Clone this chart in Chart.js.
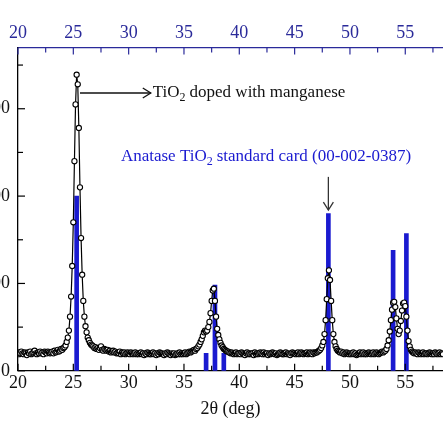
<!DOCTYPE html><html><head><script src="https://cdn.jsdelivr.net/npm/chart.js@4"></script>
<style>html,body{margin:0;padding:0;overflow:hidden;background:#fff}#w{position:absolute;left:-53px;top:0;width:501px;height:448px}</style></head><body><div id="w"><canvas id="c"></canvas></div>
<script>
// XRD scan: start angle, step, intensities
const scanStart = 18.4, scanStep = 0.1;
const scanIntensity = [
19,21,20,18,21,20,
22,20,19,21,20,18,21,22,19,20,
21,19,20,22,20,19,21,20,18,21,
20,22,19,20,21,23,20,19,21,20,
22,20,21,19,22,21,20,22,21,20,
21,22,20,23,21,22,24,22,23,25,
24,26,27,29,33,38,46,62,85,120,
170,240,305,339,328,278,210,152,110,80,
62,51,44,38,35,32,30,29,28,26,
27,25,26,24,26,28,24,23,25,24,
23,24,22,23,21,22,23,21,22,20,
21,20,22,19,21,20,21,19,20,21,
20,19,21,20,19,20,21,19,20,19,
20,21,19,20,18,20,19,21,20,19,
19,20,21,19,20,18,20,19,21,20,
20,19,18,20,19,21,20,19,18,20,
19,20,18,19,20,19,21,19,20,19,
20,21,19,20,21,22,21,22,23,24,
23,25,26,28,30,33,36,40,44,46,
45,46,50,56,66,80,92,94,80,62,
48,41,36,32,29,27,25,24,23,22,
22,21,20,21,20,19,20,21,19,20,
20,19,21,20,19,18,20,21,19,20,
19,20,20,18,21,19,20,19,20,21,
20,19,21,19,20,20,18,20,19,20,
21,20,19,20,18,19,20,21,20,19,
19,20,21,19,20,19,18,20,21,20,
20,19,20,21,19,20,21,20,19,20,
20,21,19,20,21,20,19,21,20,21,
21,22,23,24,26,29,33,42,58,82,
106,115,104,80,58,42,33,28,25,23,
22,21,22,20,21,19,20,21,20,19,
20,19,20,21,19,20,18,19,20,21,
19,20,21,19,20,19,20,21,20,19,
20,21,19,20,21,20,19,20,21,22,
21,22,23,25,29,35,45,58,70,78,
79,73,60,48,42,46,57,69,77,78,
74,62,46,34,28,24,22,21,20,21,
20,19,21,20,19,20,21,19,20,20,
19,20,21,20,19,20,19,21,20,19,
20,21,19,20,19,20,21,20,19,20,
20,19,21,20,19,20,21,20,19,20
];
const cardAngles = [25.3, 37.0, 37.8, 38.6, 48.05, 53.9, 55.1];
const cardIntensity = [200, 20, 98, 20, 180, 138, 157];
const xTicks = [20,25,30,35,40,45,50,55];

const scan = scanIntensity.map((v,i)=>({x:+(scanStart+i*scanStep).toFixed(2), y:v}));
const card = cardAngles.map((a,i)=>({x:a, y:cardIntensity[i]}));
const BLUE = '#1a1ad0', NAVY='#2a2a9a';
const serif = "'Liberation Serif','DejaVu Serif',serif";

const inward = {
  id:'inward',
  afterDraw(ch){
    const c=ch.ctx, a=ch.chartArea, x=ch.scales.x, y=ch.scales.y;
    c.save(); c.lineWidth=1.2;
    for(let v=20; v<=60; v+=2.5){
      const px=x.getPixelForValue(v); if(px<a.left-1||px>a.right)continue;
      const L = (v%5===0)?7:5;
      c.strokeStyle='#000'; c.beginPath(); c.moveTo(px,a.bottom); c.lineTo(px,a.bottom-L); c.stroke();
      c.strokeStyle=NAVY; c.beginPath(); c.moveTo(px,a.top); c.lineTo(px,a.top+L); c.stroke();
    }
    c.strokeStyle='#000';
    for(let v=0; v<=350; v+=50){
      const py=y.getPixelForValue(v); const L=(v%100===0)?7:5;
      c.beginPath(); c.moveTo(a.left,py); c.lineTo(a.left+L,py); c.stroke();
    }
    // annotations
    c.font="17px "+serif; c.fillStyle='#111'; c.strokeStyle='#111'; c.lineWidth=1.3;
    const ay=y.getPixelForValue(318), x0=x.getPixelForValue(25.6), x1=x.getPixelForValue(32.0);
    c.beginPath(); c.moveTo(x0,ay); c.lineTo(x1,ay); c.stroke();
    c.beginPath(); c.moveTo(x1-8,ay-5); c.lineTo(x1,ay); c.lineTo(x1-8,ay+5); c.stroke();
    c.textBaseline='middle'; c.textAlign='left';
    let tx=x1+2; c.fillText('TiO',tx,ay); tx+=c.measureText('TiO').width;
    c.font="12px "+serif; c.fillText('2',tx,ay+5); tx+=c.measureText('2').width+4;
    c.font="17px "+serif; c.fillText('doped with manganese',tx,ay);
    const by=y.getPixelForValue(245); c.fillStyle=BLUE;
    tx=x.getPixelForValue(29.3); c.fillText('Anatase TiO',tx,by); tx+=c.measureText('Anatase TiO').width;
    c.font="12px "+serif; c.fillText('2',tx,by+5); tx+=c.measureText('2').width+4;
    c.font="17px "+serif; c.fillText('standard card (00-002-0387)',tx,by);
    const dx=x.getPixelForValue(48.05), d0=y.getPixelForValue(222), d1=y.getPixelForValue(184);
    c.strokeStyle='#333'; c.beginPath(); c.moveTo(dx,d0); c.lineTo(dx,d1); c.stroke();
    c.beginPath(); c.moveTo(dx-5,d1-8); c.lineTo(dx,d1); c.lineTo(dx+5,d1-8); c.stroke();
    c.restore();
  }
};

new Chart(document.getElementById('c'),{
  type:'scatter',
  data:{datasets:[
    {type:'line', data:scan, borderColor:'#000', borderWidth:1.2, pointRadius:2.6, pointBackgroundColor:'#fff', pointBorderColor:'#000', pointBorderWidth:1.1, tension:0, order:1},
    {type:'bar', data:card, backgroundColor:BLUE, barThickness:4, order:2}
  ]},
  options:{
    responsive:true, maintainAspectRatio:false, animation:false,
    plugins:{legend:{display:false}, tooltip:{enabled:false}},
    layout:{padding:{top:18,right:0,left:0,bottom:24}},
    scales:{
      x:{type:'linear', position:'bottom', offset:false, min:20, max:58.4, afterBuildTicks(s){s.ticks=xTicks.map(v=>({value:v}));},
        grid:{display:false, drawTicks:false, offset:false}, border:{color:'#000', width:1.3},
        ticks:{color:'#111', font:{family:serif,size:18}, padding:2},
        title:{display:true, text:'2θ (deg)', color:'#111', font:{family:serif,size:18}, padding:{top:2}}},
      x2:{type:'linear', position:'top', offset:false, min:20, max:58.4, afterBuildTicks(s){s.ticks=xTicks.map(v=>({value:v}));},
        grid:{display:false, drawTicks:false, offset:false}, border:{color:NAVY, width:1.3},
        ticks:{color:NAVY, font:{family:serif,size:18}, padding:4}},
      y:{min:0, max:370, afterFit(s){s.width=71;}, afterBuildTicks(s){s.ticks=[0,100,200,300].map(v=>({value:v}));},
        grid:{display:false, drawTicks:false}, border:{color:'#000', width:1.3},
        ticks:{color:'#111', font:{family:serif,size:18}, padding:8}}
    }
  },
  plugins:[inward]
});
</script></body></html>
